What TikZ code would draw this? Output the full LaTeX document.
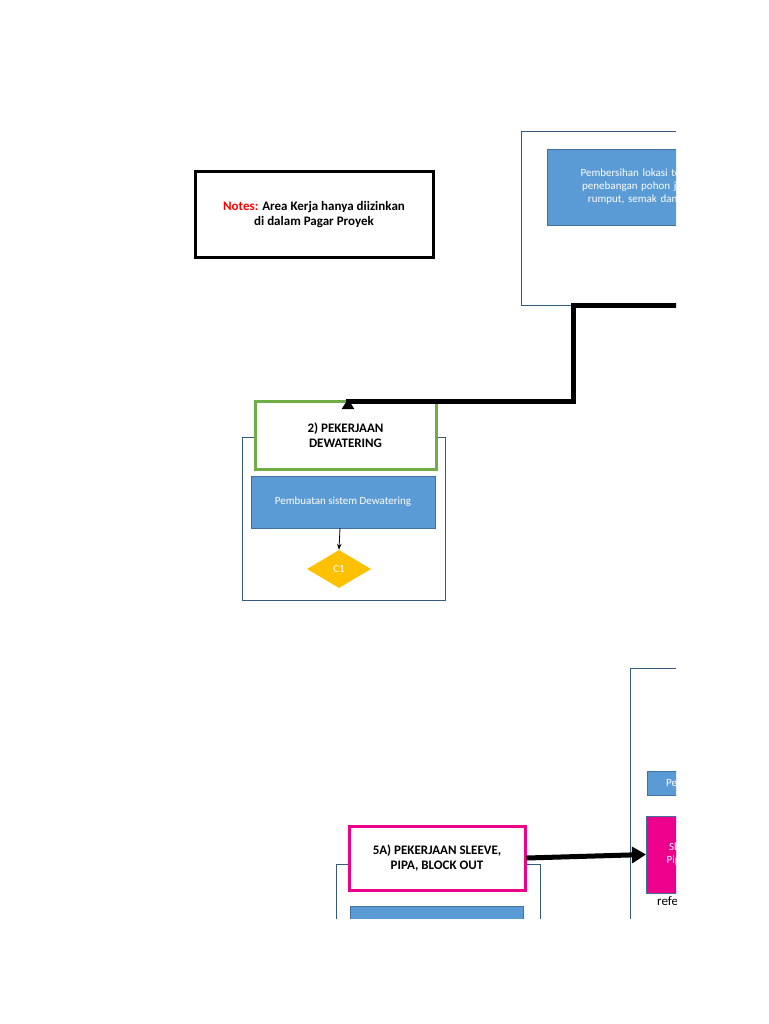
\documentclass[tikz,border=0pt]{standalone}
\usepackage{fontspec}
\setmainfont{Carlito}
\usetikzlibrary{shapes.geometric,arrows.meta}
\definecolor{boxblue}{HTML}{5B9BD5}
\definecolor{frame}{HTML}{41719C}
\definecolor{okgreen}{HTML}{70AD47}
\definecolor{amber}{HTML}{FFC000}
\begin{document}
\begin{tikzpicture}[x=1pt,y=-1pt,
    frame/.style={draw=frame!80!black, line width=0.8pt},
    task/.style={draw=frame, fill=boxblue, text=white, font=\fontsize{11}{13}\selectfont, align=center, inner sep=0pt},
    head/.style={line width=3pt, fill=white, font=\bfseries\fontsize{13}{15}\selectfont, align=center, inner sep=0pt},
    flow/.style={line width=5pt, -{Triangle[length=14pt,width=16pt]}}]
    \useasboundingbox (0,0) rectangle (768,1024);
    \begin{scope}
    \clip (0,0) rectangle (676,918);

    % the notes
    \node[draw, line width=3pt, minimum width=238pt, minimum height=85pt, align=center,
      font=\bfseries\fontsize{13}{15}\selectfont] (notes) at (314,214.5)
      {\textcolor{red}{Notes:} Area Kerja hanya diizinkan\\di dalam Pagar Proyek};

    % top right group
    \draw[frame] (760,131) -| (521,305) -- (760,305);
    \node[task, minimum width=200pt, minimum height=76pt, text width=190pt] (clean) at (647,187)
      {Pembersihan lokasi termasuk\\penebangan pohon jika ada,\\rumput, semak dan puing};
    \coordinate (out1) at (700,305);
    \coordinate (turn1) at (573,305);
    \coordinate (turn2) at (573,401);
    \coordinate (in2) at (348,399);

    % dewatering group
    \draw[frame] (242,437) rectangle (445,600);
    \node[head, draw=okgreen, minimum width=181pt, minimum height=68pt] (dew) at (345.5,435)
      {2) PEKERJAAN\\DEWATERING};
    \node[task, minimum width=184pt, minimum height=52pt] (sys) at (343,502)
      {Pembuatan sistem Dewatering};
    \node[diamond, fill=amber, text=white, minimum width=64pt, minimum height=38pt,
      inner sep=0pt, font=\fontsize{11}{13}\selectfont] (c1) at (339,569) {C1};

    % bottom right group
    \draw[frame] (760,668) -| (630,960);
    \node[task, minimum width=60pt, minimum height=24pt, anchor=west] (pe) at (647,783) {Pe\quad};
    \node[draw=frame, fill=magenta, text=white, minimum width=60pt, minimum height=77pt,
      anchor=west, align=left, font=\fontsize{11}{13}\selectfont] (sl) at (646,854.5) {\ Sl\\Pipa};
    \node[anchor=north west, font=\fontsize{13}{15}\selectfont, inner sep=0pt] (ref) at (657,896) {referensi};

    % sleeve group
    \draw[frame] (336,960) |- (540,864) -- (540,960);
    \node[head, draw=magenta, minimum width=176pt, minimum height=64pt] (slv) at (437,858)
      {5A) PEKERJAAN SLEEVE,\\PIPA, BLOCK OUT};
    \node[task, minimum width=173pt, minimum height=40pt, anchor=north west] (sub) at (350,906) {};

    % connectors
    \draw[line width=5pt, -{Triangle[length=10pt,width=12pt]}] (out1) -- (turn1) -- (turn2) -- (in2 |- turn2) -- (in2);
    \draw[-{Stealth[length=6pt]}, line width=0.8pt] (sys.south) ++(-3,0) coordinate (s1) -- (c1.north);
    \draw[flow] (slv.east) -- (sl.west);
    \end{scope}
\end{tikzpicture}
\end{document}
